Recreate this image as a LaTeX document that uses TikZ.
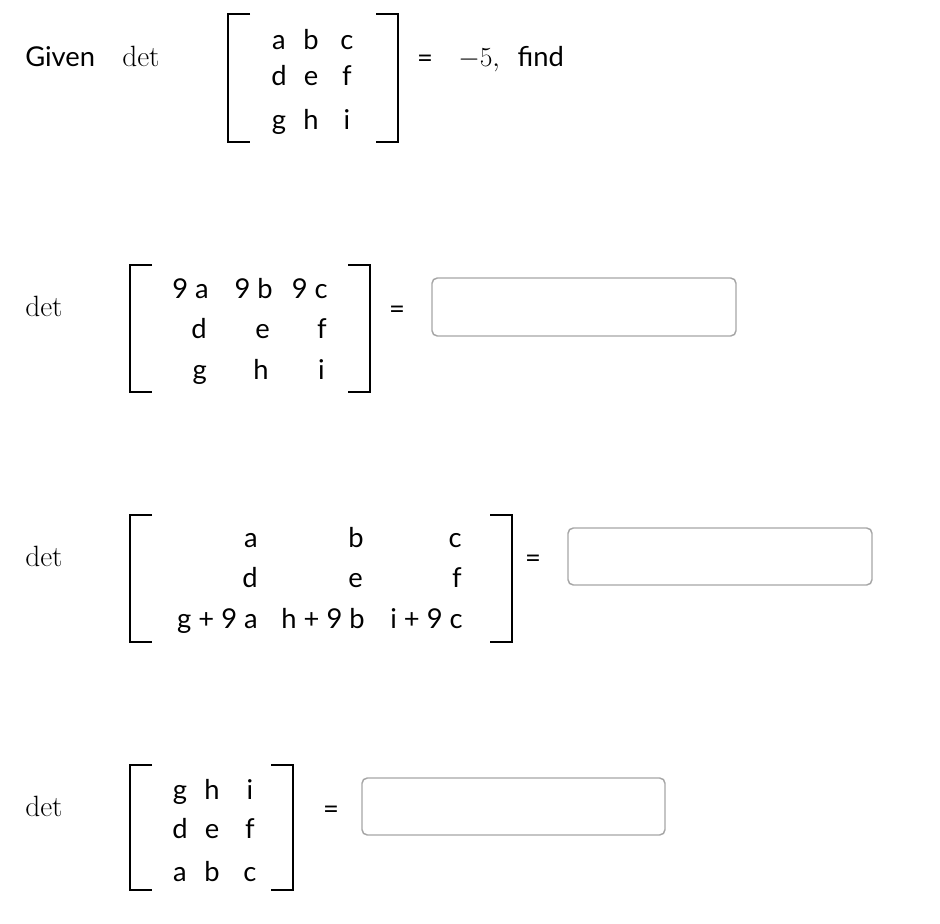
\documentclass[tikz,border=0pt]{standalone}
\usepackage{fontspec}
\setsansfont{Lato}
\begin{document}
\begin{tikzpicture}[x=0.75pt,y=-0.75pt,
  every node/.style={font=\fontsize{20.5}{24}\selectfont\sffamily, inner sep=0pt, text height=1.45ex, text depth=0.45ex, yshift=-5pt},
  mathtxt/.style={font=\fontsize{22}{24}\selectfont\rmfamily},
  brk/.style={line width=1.4pt},
  ansbox/.style={draw=gray!70, line width=1.1pt, rounded corners=4pt}]
\useasboundingbox (0,0) rectangle (940,924);
% ---- block 1
\node[anchor=west] (given) at (25,57) {Given};
\node[anchor=west,mathtxt] (det1) at (122,57) {$\det$};
\draw[brk] (250,14) -- (228,14) -- (228,142) -- (250,142);
\draw[brk] (376,14) -- (398,14) -- (398,142) -- (376,142);
\node (a11) at (279,40) {a}; \node (a12) at (311,40) {b}; \node (a13) at (347,40) {c};
\node (a21) at (279,76) {d}; \node (a22) at (311,76) {e}; \node (a23) at (347,76) {f};
\node (a31) at (279,120) {g}; \node (a32) at (311,120) {h}; \node (a33) at (347,120) {i};
\node (eq1) at (425,58) {=};
\node[anchor=west] (val1) at (458,57) {\rmfamily\fontsize{22}{24}\selectfont$-5,$\ \ \sffamily\fontsize{20.5}{24}\selectfont find};
% ---- block 2
\node[anchor=west,mathtxt] (det2) at (25,307) {$\det$};
\draw[brk] (152,265) -- (130,265) -- (130,392) -- (152,392);
\draw[brk] (348,265) -- (370,265) -- (370,392) -- (348,392);
\node[anchor=east] (b11) at (209,289) {9 a}; \node[anchor=east] (b12) at (273,289) {9 b}; \node[anchor=east] (b13) at (328,289) {9 c};
\node[anchor=east] (b21) at (207,329) {d}; \node[anchor=east] (b22) at (270,329) {e}; \node[anchor=east] (b23) at (327,329) {f};
\node[anchor=east] (b31) at (207,370) {g}; \node[anchor=east] (b32) at (269,370) {h}; \node[anchor=east] (b33) at (325,370) {i};
\node (eq2) at (397,309) {=};
\draw[ansbox] (432,278) rectangle (736,336);
% ---- block 3
\node[anchor=west,mathtxt] (det3) at (25,557) {$\det$};
\draw[brk] (152,515) -- (130,515) -- (130,642) -- (152,642);
\draw[brk] (490,515) -- (512,515) -- (512,642) -- (490,642);
\node[anchor=east] (c11) at (258,538) {a}; \node[anchor=east] (c12) at (364,538) {b}; \node[anchor=east] (c13) at (462,538) {c};
\node[anchor=east] (c21) at (258,578) {d}; \node[anchor=east] (c22) at (363,578) {e}; \node[anchor=east] (c23) at (462,578) {f};
\node[anchor=east] (c31) at (258,619) {g + 9 a}; \node[anchor=east] (c32) at (365,619) {h + 9 b}; \node[anchor=east] (c33) at (463,619) {i + 9 c};
\node (eq3) at (533,558) {=};
\draw[ansbox] (568,528) rectangle (872,585);
% ---- block 4
\node[anchor=west,mathtxt] (det4) at (25,807) {$\det$};
\draw[brk] (152,765) -- (130,765) -- (130,890) -- (152,890);
\draw[brk] (271,765) -- (293,765) -- (293,890) -- (271,890);
\node (d11) at (180,790) {g}; \node (d12) at (212,790) {h}; \node (d13) at (250,790) {i};
\node (d21) at (180,829) {d}; \node (d22) at (212,829) {e}; \node (d23) at (250,829) {f};
\node (d31) at (180,872) {a}; \node (d32) at (212,872) {b}; \node (d33) at (250,872) {c};
\node (eq4) at (331,809) {=};
\draw[ansbox] (362,778) rectangle (665,835);
\end{tikzpicture}
\end{document}
